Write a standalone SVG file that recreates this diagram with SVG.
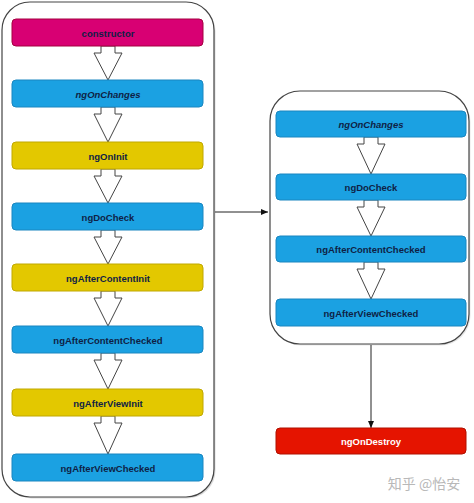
<svg xmlns="http://www.w3.org/2000/svg" width="474" height="503" viewBox="0 0 474 503">
<defs>
<style>
.box{stroke-width:1}
.lbl{font-family:"Liberation Sans",Arial,sans-serif;font-size:9.5px;font-weight:bold;fill:#0f1f45;text-anchor:middle;dominant-baseline:central}
.it{font-style:italic}
.blk{fill:#ffffff;stroke:#444444;stroke-width:1;stroke-linejoin:miter}
.cont{fill:#ffffff;stroke:#444444;stroke-width:1.2}
.edge{fill:none;stroke:#222222;stroke-width:1}
</style>
<marker id="ah" markerWidth="8" markerHeight="8" refX="7" refY="4" orient="auto" markerUnits="userSpaceOnUse">
<path d="M0,1 L7,4 L0,7 Z" fill="#111111"/>
</marker>
</defs>
<rect width="474" height="503" fill="#ffffff"/>

<!-- containers -->
<g id="left-container">
<rect x="3.5" y="3.5" width="212" height="495" rx="28" fill="#c4c4c4" opacity="0.6"/>
<rect x="2" y="2" width="212" height="495" rx="28" class="cont"/>
</g>
<g id="right-container">
<rect x="271.5" y="92.5" width="199" height="253" rx="30" fill="#cfcfcf" opacity="0.5"/>
<rect x="270" y="91" width="199" height="253" rx="30" class="cont"/>
</g>

<!-- block arrows -->
<g id="block-arrows">
<path class="blk" d="M101,46 L115,46 L115,53 L122,53 L108,80 L94,53 L101,53 Z"/>
<path class="blk" d="M101,107 L115,107 L115,114 L122,114 L108,142 L94,114 L101,114 Z"/>
<path class="blk" d="M101,169 L115,169 L115,176 L122,176 L108,203 L94,176 L101,176 Z"/>
<path class="blk" d="M101,230 L115,230 L115,237 L122,237 L108,264 L94,237 L101,237 Z"/>
<path class="blk" d="M101,291 L115,291 L115,298 L122,298 L108,326 L94,298 L101,298 Z"/>
<path class="blk" d="M101,353 L115,353 L115,360 L122,360 L108,389 L94,360 L101,360 Z"/>
<path class="blk" d="M101,416 L115,416 L115,423 L122,423 L108,454 L94,423 L101,423 Z"/>
<path class="blk" d="M364,137 L378,137 L378,144 L385,144 L371,174 L357,144 L364,144 Z"/>
<path class="blk" d="M364,200 L378,200 L378,207 L385,207 L371,236 L357,207 L364,207 Z"/>
<path class="blk" d="M364,262 L378,262 L378,269 L385,269 L371,299 L357,269 L364,269 Z"/>
</g>

<!-- connectors -->
<g id="connectors">
<path class="edge" d="M215,212 L268,212" marker-end="url(#ah)"/>
<path class="edge" d="M371,345 L371,428" marker-end="url(#ah)"/>
</g>

<!-- left nodes -->
<g id="constructor"><rect x="12" y="19" width="191" height="27" rx="4" fill="#d80073" stroke="#a50040"/><text x="108" y="33" class="lbl">constructor</text></g>
<g id="ngOnChanges-1"><rect x="12" y="80" width="191" height="27" rx="4" fill="#1ba1e2" stroke="#1a86c0"/><text x="108" y="94" class="lbl it">ngOnChanges</text></g>
<g id="ngOnInit"><rect x="12" y="142" width="191" height="27" rx="4" fill="#e3c800" stroke="#c0a800"/><text x="108" y="156" class="lbl">ngOnInit</text></g>
<g id="ngDoCheck-1"><rect x="12" y="203" width="191" height="27" rx="4" fill="#1ba1e2" stroke="#1a86c0"/><text x="108" y="217" class="lbl">ngDoCheck</text></g>
<g id="ngAfterContentInit"><rect x="12" y="264" width="191" height="27" rx="4" fill="#e3c800" stroke="#c0a800"/><text x="108" y="278" class="lbl">ngAfterContentInit</text></g>
<g id="ngAfterContentChecked-1"><rect x="12" y="326" width="191" height="27" rx="4" fill="#1ba1e2" stroke="#1a86c0"/><text x="108" y="340" class="lbl">ngAfterContentChecked</text></g>
<g id="ngAfterViewInit"><rect x="12" y="389" width="191" height="27" rx="4" fill="#e3c800" stroke="#c0a800"/><text x="108" y="403" class="lbl">ngAfterViewInit</text></g>
<g id="ngAfterViewChecked-1"><rect x="12" y="454" width="191" height="27" rx="4" fill="#1ba1e2" stroke="#1a86c0"/><text x="108" y="468" class="lbl">ngAfterViewChecked</text></g>

<!-- right nodes -->
<g id="ngOnChanges-2"><rect x="276" y="111" width="190" height="26" rx="4" fill="#1ba1e2" stroke="#1a86c0"/><text x="371" y="124" class="lbl it">ngOnChanges</text></g>
<g id="ngDoCheck-2"><rect x="276" y="174" width="190" height="26" rx="4" fill="#1ba1e2" stroke="#1a86c0"/><text x="371" y="187" class="lbl">ngDoCheck</text></g>
<g id="ngAfterContentChecked-2"><rect x="276" y="236" width="190" height="26" rx="4" fill="#1ba1e2" stroke="#1a86c0"/><text x="371" y="249" class="lbl">ngAfterContentChecked</text></g>
<g id="ngAfterViewChecked-2"><rect x="276" y="299" width="190" height="27" rx="4" fill="#1ba1e2" stroke="#1a86c0"/><text x="371" y="313" class="lbl">ngAfterViewChecked</text></g>
<g id="ngOnDestroy"><rect x="276" y="428" width="190" height="26" rx="4" fill="#e51400" stroke="#b01000"/><text x="371" y="441" class="lbl" style="fill:#ffffff">ngOnDestroy</text></g>

<text x="424" y="489" font-family="'Noto Sans CJK SC',sans-serif" font-size="14" fill="#b8b8b8" text-anchor="middle">知乎 @怡安</text>
</svg>
